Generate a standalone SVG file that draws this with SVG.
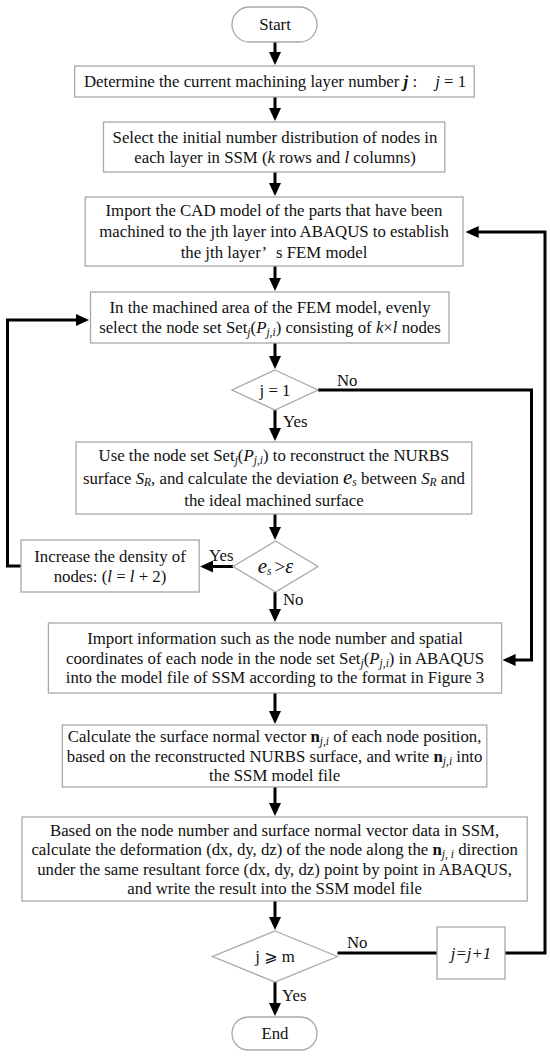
<svg xmlns="http://www.w3.org/2000/svg" width="550" height="1056" viewBox="0 0 550 1056">
<style>
.box{fill:#fff;stroke:#a8a8a8;stroke-width:1.3}
.t{font-family:"Liberation Serif","Times New Roman",serif;font-size:16.8px;fill:#111;text-anchor:middle}
.lbl{font-family:"Liberation Serif","Times New Roman",serif;font-size:16.8px;fill:#111}
.c{fill:none;stroke:#000;stroke-width:3}
.i{font-style:italic}
.b{font-weight:bold}
.s{font-size:11.5px;font-style:italic}
</style>
<defs>
<marker id="ah" viewBox="0 0 13 12" refX="1" refY="6" markerWidth="13" markerHeight="12" markerUnits="userSpaceOnUse" orient="auto">
<path d="M0,0 L13,6 L0,12 z" fill="#000"/>
</marker>
</defs>
<rect width="550" height="1056" fill="#fff"/>

<g id="connectors">
<path class="c" marker-end="url(#ah)" d="M275,42 V53"/>
<path class="c" marker-end="url(#ah)" d="M275,97 V109"/>
<path class="c" marker-end="url(#ah)" d="M275,172 V184"/>
<path class="c" marker-end="url(#ah)" d="M275,266 V279"/>
<path class="c" marker-end="url(#ah)" d="M275,343 V357"/>
<path class="c" marker-end="url(#ah)" d="M275,410 V429"/>
<path class="c" marker-end="url(#ah)" d="M275,514 V528"/>
<path class="c" marker-end="url(#ah)" d="M275,592 V610"/>
<path class="c" marker-end="url(#ah)" d="M275,693 V712"/>
<path class="c" marker-end="url(#ah)" d="M275,787 V804"/>
<path class="c" marker-end="url(#ah)" d="M275,901 V918"/>
<path class="c" marker-end="url(#ah)" d="M275,982 V1004"/>
<path class="c" marker-end="url(#ah)" d="M318,390 H531.5 V660 H514.6"/>
<path class="c" marker-end="url(#ah)" d="M505,953 H545 V232 H477.7"/>
<path class="c" d="M337.5,953 H437"/>
<path class="c" marker-end="url(#ah)" d="M233,566.5 H212.2"/>
<path class="c" marker-end="url(#ah)" d="M21,566 H7.5 V320 H77"/>
<text class="lbl" x="337" y="386">No</text>
<text class="lbl" x="283" y="427">Yes</text>
<text class="lbl" x="209" y="561">Yes</text>
<text class="lbl" x="283" y="605">No</text>
<text class="lbl" x="347" y="948">No</text>
<text class="lbl" x="282" y="1001">Yes</text>
</g>

<g id="start">
<rect class="box" x="232" y="7" width="85" height="35" rx="17.5"/>
<text class="t" x="275" y="30">Start</text>
</g>

<g id="determine-layer">
<rect class="box" x="74.7" y="66" width="399.5" height="31"/>
<text class="t" x="275" y="87">Determine the current machining layer number <tspan class="i b">j</tspan> :<tspan class="i" dx="18">j</tspan> = 1</text>
</g>

<g id="select-distribution">
<rect class="box" x="103.5" y="122" width="341.3" height="50"/>
<text class="t" x="275" y="142.5">Select the initial number distribution of nodes in</text>
<text class="t" x="275" y="162.5">each layer in SSM (<tspan class="i">k</tspan> rows and <tspan class="i">l</tspan> columns)</text>
</g>

<g id="import-cad">
<rect class="box" x="85.2" y="197" width="377.8" height="69"/>
<text class="t" x="274" y="216">Import the CAD model of the parts that have been</text>
<text class="t" x="274" y="237">machined to the jth layer into ABAQUS to establish</text>
<text class="t" x="274" y="258">the jth layer’ <tspan dx="6">s FEM model</tspan></text>
</g>

<g id="select-node-set">
<rect class="box" x="90.5" y="292" width="358.5" height="51"/>
<text class="t" x="270" y="312.5">In the machined area of the FEM model, evenly</text>
<text class="t" x="270" y="333">select the node set Set<tspan class="s" dy="3">j</tspan><tspan dy="-3">(</tspan><tspan class="i">P</tspan><tspan class="s" dy="3">j,i</tspan><tspan dy="-3">) consisting of </tspan><tspan class="i">k</tspan>×<tspan class="i">l</tspan> nodes</text>
</g>

<g id="decision-j1">
<polygon class="box" points="275,370 318,390 275,410 232,390"/>
<text class="t" x="275" y="395.5">j = 1</text>
</g>

<g id="reconstruct-nurbs">
<rect class="box" x="76" y="442" width="395.8" height="72"/>
<text class="t" x="274" y="461">Use the node set Set<tspan class="s" dy="3">j</tspan><tspan dy="-3">(</tspan><tspan class="i">P</tspan><tspan class="s" dy="3">j,i</tspan><tspan dy="-3">) to reconstruct the NURBS</tspan></text>
<text class="t" x="274" y="483.5">surface <tspan class="i">S</tspan><tspan class="s" dy="2">R</tspan><tspan dy="-2">, and calculate the deviation </tspan><tspan class="i" font-size="21">e</tspan><tspan class="s" font-size="13" dy="2">s</tspan><tspan dy="-2"> between </tspan><tspan class="i">S</tspan><tspan class="s" dy="2">R</tspan><tspan dy="-2"> and</tspan></text>
<text class="t" x="274" y="506">the ideal machined surface</text>
</g>

<g id="decision-es">
<polygon class="box" points="275.5,541 318,566.5 275.5,592 233,566.5"/>
<text class="t" x="275.5" y="573"><tspan class="i" font-size="21">e</tspan><tspan class="s" font-size="13" dy="2">s</tspan><tspan dy="-2" dx="3" font-size="19">&gt;</tspan><tspan class="i" font-size="20">ε</tspan></text>
</g>

<g id="increase-density">
<rect class="box" x="21" y="540" width="178.2" height="52"/>
<text class="t" x="110" y="561.5">Increase the density of</text>
<text class="t" x="110" y="581.5">nodes: (<tspan class="i">l</tspan> = <tspan class="i">l</tspan> + 2)</text>
</g>

<g id="import-info">
<rect class="box" x="48.4" y="623" width="453.2" height="70"/>
<text class="t" x="275" y="643.5">Import information such as the node number and spatial</text>
<text class="t" x="275" y="663.5">coordinates of each node in the node set Set<tspan class="s" dy="3">j</tspan><tspan dy="-3">(</tspan><tspan class="i">P</tspan><tspan class="s" dy="3">j,i</tspan><tspan dy="-3">) in ABAQUS</tspan></text>
<text class="t" x="275" y="683">into the model file of SSM according to the format in Figure 3</text>
</g>

<g id="normal-vector">
<rect class="box" x="62.4" y="725" width="424.4" height="62"/>
<text class="t" x="274.6" y="741.5">Calculate the surface normal vector <tspan class="b">n</tspan><tspan class="s" dy="3">j,i</tspan><tspan dy="-3"> of each node position,</tspan></text>
<text class="t" x="274.6" y="761.5">based on the reconstructed NURBS surface, and write <tspan class="b">n</tspan><tspan class="s" dy="3">j,i</tspan><tspan dy="-3"> into</tspan></text>
<text class="t" x="274.6" y="781">the SSM model file</text>
</g>

<g id="deformation">
<rect class="box" x="22" y="817" width="505.2" height="84"/>
<text class="t" x="274.6" y="836">Based on the node number and surface normal vector data in SSM,</text>
<text class="t" x="274.6" y="855">calculate the deformation (dx, dy, dz) of the node along the <tspan class="b">n</tspan><tspan class="s" dy="3">j, i</tspan><tspan dy="-3"> direction</tspan></text>
<text class="t" x="274.6" y="875">under the same resultant force (dx, dy, dz) point by point in ABAQUS,</text>
<text class="t" x="274.6" y="894">and write the result into the SSM model file</text>
</g>

<g id="decision-jm">
<polygon class="box" points="275,931 337.5,956.5 275,982 212.5,956.5"/>
<text class="t" x="275" y="962">j <tspan font-family="DejaVu Serif, DejaVu Sans, serif" font-size="16">⩾</tspan> m</text>
</g>

<g id="increment-j">
<rect class="box" x="437" y="927" width="68" height="52"/>
<text class="t i" x="471" y="959">j=j+1</text>
</g>

<g id="end">
<rect class="box" x="232" y="1017" width="85" height="33" rx="16.5"/>
<text class="t" x="275" y="1039">End</text>
</g>
</svg>
